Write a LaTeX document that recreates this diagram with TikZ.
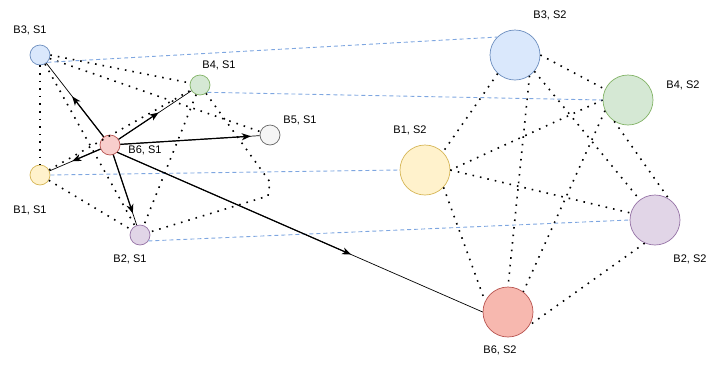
\documentclass[tikz,border=0pt]{standalone}
\usepackage{fontspec}
\setmainfont{Liberation Sans}
\usetikzlibrary{arrows.meta,calc}

\definecolor{bluefill}{HTML}{DAE8FC}\definecolor{bluedraw}{HTML}{6C8EBF}
\definecolor{greenfill}{HTML}{D5E8D4}\definecolor{greendraw}{HTML}{82B366}
\definecolor{greyfill}{HTML}{F5F5F5}\definecolor{greydraw}{HTML}{666666}
\definecolor{redfill}{HTML}{F8CECC}\definecolor{reddraw}{HTML}{B85450}
\definecolor{reddark}{HTML}{F7B8AF}
\definecolor{yellowfill}{HTML}{FFF2CC}\definecolor{yellowdraw}{HTML}{D6B656}
\definecolor{purplefill}{HTML}{E1D5E7}\definecolor{purpledraw}{HTML}{9673A6}
\definecolor{matchblue}{HTML}{7EA6E0}

\tikzset{
  small/.style={circle, draw, line width=0.7pt, minimum size=20pt, inner sep=0pt},
  big/.style={circle, draw, line width=0.7pt, minimum size=50pt, inner sep=0pt},
  lbl/.style={font=\fontsize{11pt}{13pt}\selectfont, inner sep=0pt},
  dots/.style={line width=1.6pt, dash pattern=on 1.6pt off 6pt},
  match/.style={draw=matchblue, line width=0.9pt, dash pattern=on 4pt off 3pt},
  link/.style={line width=0.7pt},
  head/.style={line width=1.2pt, -{Stealth[length=9pt,width=7pt,inset=2.5pt]}},
}

\begin{document}
\begin{tikzpicture}[x=1pt, y=-1pt]
        \useasboundingbox (0,0) rectangle (721,368);

        \node[small, fill=bluefill, draw=bluedraw] (b3a) at (40,55) {};
        \node[small, fill=greenfill, draw=greendraw] (b4a) at (200,85) {};
        \node[small, fill=greyfill, draw=greydraw] (b5a) at (270,135) {};
        \node[small, fill=redfill, draw=reddraw] (b6a) at (110,145) {};
        \node[small, fill=yellowfill, draw=yellowdraw] (b1a) at (40,175) {};
        \node[small, fill=purplefill, draw=purpledraw] (b2a) at (140,235) {};

        \node[big, fill=bluefill, draw=bluedraw] (b3b) at (515,55) {};
        \node[big, fill=greenfill, draw=greendraw] (b4b) at (628,100) {};
        \node[big, fill=yellowfill, draw=yellowdraw] (b1b) at (425,170) {};
        \node[big, fill=purplefill, draw=purpledraw] (b2b) at (655,220) {};
        \node[big, fill=reddark, draw=reddraw] (b6b) at (508,312) {};

        \node[lbl] (t3a) at (30,30) {B3, S1};
        \node[lbl] (t4a) at (219,65) {B4, S1};
        \node[lbl] (t5a) at (300,120) {B5, S1};
        \node[lbl] (t6a) at (145,150) {B6, S1};
        \node[lbl] (t1a) at (30,210) {B1, S1};
        \node[lbl] (t2a) at (130,259) {B2, S1};
        \node[lbl] (t3b) at (550,15) {B3, S2};
        \node[lbl] (t4b) at (683,85) {B4, S2};
        \node[lbl] (t1b) at (410,130) {B1, S2};
        \node[lbl] (t2b) at (690,259) {B2, S2};
        \node[lbl] (t6b) at (500,350) {B6, S2};

        \coordinate (c1) at (270,182);
        \coordinate (c2) at (268,196);

        \draw[dots] (b3a) -- (b1a);
        \draw[dots] (b3a.east) -- (b4a);
        \draw[dots] (b3a.-20) -- (b5a);
        \draw[dots] (b3a) -- (b2a);
        \draw[dots] (b1a) -- (b4a);
        \draw[dots] (b1a) -- (b2a);
        \draw[dots] (b4a) -- (b2a);
        \draw[dots] (b4a) -- (c1) -- (c2) -- (b2a);

        \draw[dots] (b3b.east) -- (b4b.155);
        \draw[dots] (b3b.-133) -- (b1b.45);
        \draw[dots] (b3b.-55) -- (b6b.north);
        \draw[dots] (b3b.-40) -- (b2b.127);
        \draw[dots] (b4b.west) -- (b1b.east);
        \draw[dots] (b4b.205) -- (b6b.53);
        \draw[dots] (b4b.237) -- (b2b.57);
        \draw[dots] (b1b.east) -- (b2b.164);
        \draw[dots] (b1b.-43) -- (b6b.155);
        \draw[dots] (b2b.246) -- (b6b.-31);

        \draw[match] (b3a.-45) -- (b3b.135);
        \draw[match] (b4a.-45) -- (b4b.west);
        \draw[match] (b1a.east) -- (b1b.west);
        \draw[match] (b2a.-35) -- (b2b.west);

        \draw[link] (b6a) -- (b3a);
        \draw[head] (b6a) -- ($(b6a)!0.54!(b3a)$);
        \draw[link] (b6a) -- (b4a);
        \draw[head] (b6a) -- ($(b6a)!0.54!(b4a)$);
        \draw[link] (b6a) -- (b5a);
        \draw[head] (b6a) -- ($(b6a)!0.88!(b5a)$);
        \draw[link] (b6a) -- (b1a);
        \draw[head] (b6a) -- ($(b6a)!0.54!(b1a)$);
        \draw[link] (b6a) -- (b2a);
        \draw[head] (b6a) -- ($(b6a)!0.76!(b2a)$);
        \draw[link] (b6a.-45) -- (b6b.west);
        \draw[head] (b6a.-45) -- ($(b6a.-45)!0.64!(b6b.west)$);
    \end{tikzpicture}
\end{document}
